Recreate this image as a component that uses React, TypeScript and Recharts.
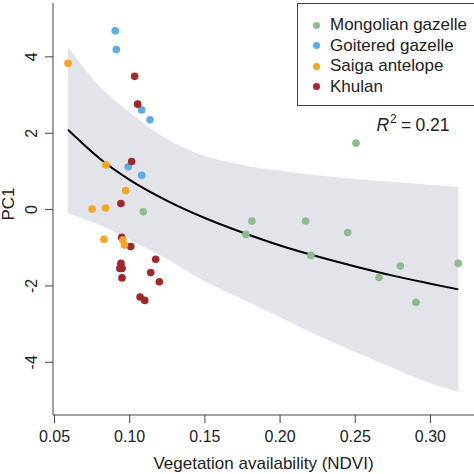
import {
  ComposedChart,
  Area,
  Line,
  Scatter,
  XAxis,
  YAxis,
  ZAxis,
  Legend,
} from "recharts";

// species scatter (NDVI, PC1)
const mongolianX = [0.109, 0.1773, 0.1813, 0.217, 0.2205, 0.245, 0.2505, 0.2658, 0.28, 0.2904, 0.3185];
const mongolianY = [-0.06, -0.65, -0.3, -0.3, -1.2, -0.6, 1.74, -1.78, -1.48, -2.43, -1.41];

const goiteredX = [0.0904, 0.0911, 0.108, 0.1135, 0.099, 0.108];
const goiteredY = [4.68, 4.19, 2.61, 2.35, 1.12, 0.9];

const saigaX = [0.059, 0.0842, 0.0973, 0.075, 0.084, 0.0829, 0.0955, 0.0965];
const saigaY = [3.83, 1.17, 0.5, 0.01, 0.04, -0.78, -0.8, -0.93];

const khulanX = [0.1033, 0.1053, 0.1013, 0.0942, 0.0947, 0.1007, 0.0942, 0.0935, 0.0949, 0.0949, 0.1173, 0.114, 0.1197, 0.1069, 0.11];
const khulanY = [3.49, 2.76, 1.26, 0.16, -0.73, -0.97, -1.41, -1.54, -1.54, -1.79, -1.3, -1.65, -1.89, -2.29, -2.38];

// fitted curve and its confidence band
const fitX = [0.059, 0.08, 0.1, 0.125, 0.15, 0.175, 0.2, 0.225, 0.25, 0.275, 0.3, 0.3185];
const fitY = [2.09, 1.34, 0.78, 0.23, -0.22, -0.6, -0.94, -1.23, -1.49, -1.73, -1.94, -2.09];
const bandLow = [-0.1, -0.4, -0.8, -1.3, -1.88, -2.35, -2.82, -3.3, -3.73, -4.15, -4.55, -4.77];
const bandHigh = [4.26, 3.22, 2.54, 1.84, 1.4, 1.17, 1.02, 0.9, 0.8, 0.72, 0.65, 0.59];

const xTicks = [0.05, 0.1, 0.15, 0.2, 0.25, 0.3];
const yTicks = [-4, -2, 0, 2, 4];

const species = [
  { name: "Mongolian gazelle", color: "#8fbc8f" },
  { name: "Goitered gazelle", color: "#5dade2" },
  { name: "Saiga antelope", color: "#f5a623" },
  { name: "Khulan", color: "#a0282b" },
];

const FONT = "'Liberation Sans', Arial, sans-serif";
const AXIS = "#444";

const pts = (xs: number[], ys: number[]) => xs.map((x, i) => ({ x, y: ys[i] }));

const fitData = fitX.map((x, i) => ({
  x,
  fit: fitY[i],
  band: [bandLow[i], bandHigh[i]],
}));

const XTick = (props: any) => (
  <text x={props.x} y={442} textAnchor="middle" fontSize={16} fontFamily={FONT} fill="#222">
    {props.payload.value.toFixed(2)}
  </text>
);

const YTick = (props: any) => {
  const x = 37.5;
  const y = props.y;
  return (
    <text x={x} y={y} transform={`rotate(-90 ${x} ${y})`} textAnchor="middle" fontSize={16} fontFamily={FONT} fill="#222">
      {props.payload.value}
    </text>
  );
};

const renderLegend = () => (
  <div
    style={{
      position: "relative",
      width: 185,
      height: 103,
      border: `1px solid ${AXIS}`,
      boxSizing: "border-box",
      background: "#fff",
      fontFamily: FONT,
      fontSize: 17,
      color: "#222",
    }}
  >
    {species.map((s, i) => (
      <div key={s.name} style={{ position: "absolute", left: 0, top: 11 + i * 20.6, height: 20, lineHeight: "20px", whiteSpace: "nowrap" }}>
        <span
          style={{
            position: "absolute",
            left: 15,
            top: 6.5,
            width: 7,
            height: 7,
            borderRadius: "50%",
            background: s.color,
          }}
        />
        <span style={{ position: "absolute", left: 32 }}>{s.name}</span>
      </div>
    ))}
  </div>
);

export default function App() {
  return (
    <div style={{ position: "absolute", left: 0, top: 0, width: 474, height: 474, overflow: "hidden", background: "#fff" }}>
      <ComposedChart width={480} height={474} data={fitData} margin={{ top: 3, right: 4, bottom: 0, left: 0 }}>
        <XAxis
          type="number"
          dataKey="x"
          domain={[0.049, 0.3303]}
          allowDataOverflow
          ticks={xTicks}
          tick={XTick}
          tickSize={8}
          height={59}
          axisLine={{ stroke: AXIS }}
          tickLine={{ stroke: AXIS }}
          label={() => (
            <text x={263.5} y={469} textAnchor="middle" fontSize={17} fontFamily={FONT} fill="#222">
              Vegetation availability (NDVI)
            </text>
          )}
        />
        <XAxis
          xAxisId="top"
          orientation="top"
          type="number"
          domain={[0.049, 0.3303]}
          height={0}
          tick={false}
          tickLine={false}
          axisLine={{ stroke: AXIS }}
        />
        <YAxis
          type="number"
          domain={[-5.38, 5.41]}
          allowDataOverflow
          ticks={yTicks}
          tick={YTick}
          tickSize={8}
          width={53}
          axisLine={{ stroke: AXIS }}
          tickLine={{ stroke: AXIS }}
          label={() => (
            <text x={13.5} y={204} transform="rotate(-90 13.5 204)" textAnchor="middle" fontSize={17} fontFamily={FONT} fill="#222">
              PC1
            </text>
          )}
        />
        <ZAxis range={[46, 46]} />
        <Area
          dataKey="band"
          type="monotone"
          fill="#e3e4e9"
          fillOpacity={1}
          stroke="none"
          legendType="none"
          isAnimationActive={false}
        />
        <Line
          dataKey="fit"
          type="monotone"
          stroke="#000"
          strokeWidth={2}
          dot={false}
          legendType="none"
          isAnimationActive={false}
        />
        <Scatter name="Goitered gazelle" data={pts(goiteredX, goiteredY)} dataKey="y" fill={species[1].color} isAnimationActive={false} />
        <Scatter name="Khulan" data={pts(khulanX, khulanY)} dataKey="y" fill={species[3].color} isAnimationActive={false} />
        <Scatter name="Saiga antelope" data={pts(saigaX, saigaY)} dataKey="y" fill={species[2].color} isAnimationActive={false} />
        <Scatter name="Mongolian gazelle" data={pts(mongolianX, mongolianY)} dataKey="y" fill={species[0].color} isAnimationActive={false} />
        <Legend
          layout="horizontal"
          align="center"
          verticalAlign="middle"
          content={renderLegend}
          wrapperStyle={{ position: "absolute", left: 297, top: 3, width: 185, height: 103 }}
        />
      </ComposedChart>
      <svg width={474} height={474} style={{ position: "absolute", left: 0, top: 0, pointerEvents: "none" }}>
        <text y={131} fontFamily={FONT} fontSize={17.5} fill="#222">
          <tspan x={376.5} fontStyle="italic">R</tspan>
          <tspan x={390} dy={-8} fontSize={12}>2</tspan>
          <tspan x={401} dy={8}>=</tspan>
          <tspan x={415.5}>0.21</tspan>
        </text>
      </svg>
    </div>
  );
}
